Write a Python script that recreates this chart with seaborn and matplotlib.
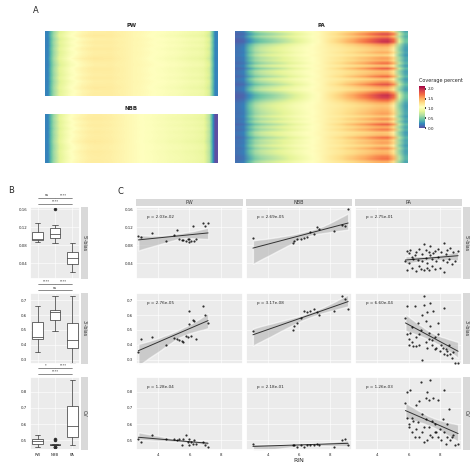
import numpy as np
import pandas as pd
import seaborn as sns
from matplotlib import pyplot as plt

sns.set_theme(style='darkgrid', rc={'axes.facecolor': '#EBEBEB', 'grid.color': 'white'})
plt.rcParams['font.family'] = ['DejaVu Sans']

W, H = 474, 465
GROUPS = ['PW', 'NBB', 'PA']
METRICS = ["5'-bias", "3'-bias", 'CV']

# coverage profiles along gene body (5' -> 3')
prof_pw = [0.2, 0.6, 0.85, 0.95, 1.05, 1.1, 1.15, 1.18, 1.2, 1.2, 1.2, 1.2, 1.18, 1.17, 1.15,
           1.13, 1.12, 1.1, 1.08, 1.06, 1.05, 1.03, 1.02, 1.0, 0.98, 0.96, 0.95, 0.92, 0.8, 0.2]
prof_nbb = [0.2, 0.6, 0.85, 0.97, 1.07, 1.12, 1.16, 1.19, 1.2, 1.2, 1.19, 1.18, 1.16, 1.14, 1.12,
            1.1, 1.08, 1.06, 1.05, 1.03, 1.02, 1.0, 0.99, 0.98, 0.96, 0.95, 0.93, 0.9, 0.7, 0.0]
prof_pa = [0.15, 0.2, 0.45, 0.65, 0.75, 0.8, 0.84, 0.88, 0.92, 0.96, 1.0, 1.03, 1.06, 1.09, 1.12,
           1.15, 1.18, 1.2, 1.22, 1.25, 1.27, 1.3, 1.32, 1.35, 1.38, 1.4, 1.38, 1.2, 0.55, 0.3]
# per-sample 3'-skew of each heatmap row
gain_pw = [0.02, -0.03, 0.05, 0.0, 0.04, -0.02, 0.03, 0.01, -0.04, 0.02, 0.05, -0.01, 0.0, 0.03,
           -0.02, 0.04, 0.01, -0.03, 0.02, 0.0]
gain_nbb = [0.01, -0.02, 0.03, 0.0, 0.04, -0.01, 0.02, 0.0, -0.03, 0.02, 0.03, -0.01, 0.01, 0.02, 0.0]
gain_pa = [0.1, 0.45, 0.25, 0.5, 0.55, 0.2, 0.05, 0.0, 0.1, -0.05, 0.15, 0.1, 0.3, 0.0, 0.35,
           0.05, 0.1, 0.3, 0.0, 0.2, 0.4, 0.15, 0.05, 0.35, 0.55, 0.5, 0.3, 0.1, 0.0, 0.05,
           0.1, 0.15, 0.0, 0.2, 0.05, 0.35, 0.1, 0.25, 0.0, 0.05, 0.3, 0.1, 0.15, 0.0, 0.2,
           0.05, 0.1, 0.25, 0.3, 0.1]

# per-sample QC metrics
pw_rin = [2.7, 2.9, 3.6, 4.5, 5.0, 5.2, 5.3, 5.5, 5.6, 5.8, 5.9, 6.0, 6.0, 6.1, 6.2, 6.3, 6.4, 6.9, 7.0, 7.2]
pw_b5 = [0.100, 0.098, 0.108, 0.090, 0.102, 0.113, 0.093, 0.092, 0.092, 0.090, 0.093, 0.088, 0.095,
         0.090, 0.123, 0.089, 0.093, 0.129, 0.123, 0.130]
pw_b3 = [0.35, 0.44, 0.455, 0.40, 0.445, 0.44, 0.435, 0.425, 0.42, 0.46, 0.455, 0.54, 0.63, 0.46,
         0.57, 0.56, 0.44, 0.66, 0.60, 0.55]
pw_cv = [0.51, 0.49, 0.53, 0.51, 0.51, 0.50, 0.51, 0.47, 0.51, 0.53, 0.49, 0.51, 0.47, 0.49, 0.48,
         0.50, 0.48, 0.49, 0.47, 0.46]

nbb_rin = [3.0, 5.6, 5.7, 5.9, 6.1, 6.3, 6.5, 6.7, 7.0, 7.2, 7.3, 8.3, 8.8, 9.0, 9.2]
nbb_b5 = [0.097, 0.085, 0.090, 0.093, 0.094, 0.097, 0.098, 0.110, 0.105, 0.120, 0.115, 0.112,
          0.125, 0.122, 0.160]
nbb_b3 = [0.49, 0.50, 0.53, 0.55, 0.58, 0.63, 0.62, 0.63, 0.64, 0.62, 0.60, 0.63, 0.73, 0.71, 0.64]
nbb_cv = [0.48, 0.47, 0.47, 0.46, 0.47, 0.46, 0.47, 0.47, 0.47, 0.48, 0.47, 0.46, 0.50, 0.51, 0.47]

pa_rin = [5.8, 5.9, 5.9, 6.0, 6.0, 6.1, 6.2, 6.2, 6.3, 6.4, 6.5, 6.5, 6.6, 6.7, 6.7, 6.8, 6.9, 6.9,
          7.0, 7.0, 7.1, 7.1, 7.2, 7.2, 7.3, 7.3, 7.4, 7.4, 7.5, 7.5, 7.6, 7.7, 7.7, 7.8, 7.9, 7.9,
          8.0, 8.1, 8.2, 8.3, 8.3, 8.4, 8.5, 8.5, 8.6, 8.7, 8.8, 8.9, 9.0, 9.2]
pa_b5 = [0.045, 0.068, 0.025, 0.062, 0.040, 0.070, 0.030, 0.055, 0.050, 0.058, 0.022, 0.065, 0.048,
         0.035, 0.072, 0.028, 0.060, 0.045, 0.082, 0.025, 0.052, 0.070, 0.030, 0.040, 0.065, 0.024,
         0.058, 0.078, 0.035, 0.050, 0.062, 0.028, 0.068, 0.045, 0.055, 0.072, 0.030, 0.065, 0.048,
         0.085, 0.020, 0.060, 0.042, 0.070, 0.050, 0.075, 0.038, 0.066, 0.045, 0.068]
pa_b3 = [0.58, 0.47, 0.66, 0.44, 0.40, 0.48, 0.42, 0.52, 0.39, 0.66, 0.45, 0.39, 0.55, 0.40, 0.47,
         0.50, 0.30, 0.60, 0.67, 0.73, 0.42, 0.56, 0.38, 0.62, 0.44, 0.48, 0.53, 0.68, 0.43, 0.40,
         0.63, 0.37, 0.45, 0.38, 0.47, 0.55, 0.36, 0.40, 0.38, 0.34, 0.65, 0.37, 0.36, 0.33, 0.40,
         0.34, 0.31, 0.35, 0.28, 0.28]
pa_cv = [0.73, 0.64, 0.80, 0.60, 0.58, 0.81, 0.55, 0.64, 0.62, 0.52, 0.72, 0.57, 0.61, 0.74, 0.52,
         0.86, 0.66, 0.55, 0.58, 0.49, 0.76, 0.63, 0.50, 0.80, 0.58, 0.75, 0.53, 0.87, 0.62, 0.52,
         0.76, 0.55, 0.60, 0.55, 0.75, 0.52, 0.57, 0.50, 0.63, 0.55, 0.81, 0.48, 0.60, 0.52, 0.69,
         0.50, 0.52, 0.53, 0.47, 0.48]

pvals = [['p = 2.03e-02', 'p = 2.69e-05', 'p = 2.75e-01'],
         ['p = 2.76e-05', 'p = 3.17e-08', 'p = 6.60e-04'],
         ['p = 1.28e-04', 'p = 2.18e-01', 'p = 1.26e-03']]
sig_labels = [[('ns', 0, 1, 0), ('****', 1, 2, 0), ('****', 0, 2, 1)],
              [('****', 0, 1, 0), ('****', 1, 2, 0), ('ns', 0, 2, 1)],
              [('*', 0, 1, 0), ('****', 1, 2, 0), ('****', 0, 2, 1)]]
y_ticks = [[0.04, 0.08, 0.12, 0.16], [0.3, 0.4, 0.5, 0.6, 0.7], [0.5, 0.6, 0.7, 0.8]]
y_lims = [(0.005, 0.165), (0.27, 0.75), (0.44, 0.89)]

df = pd.DataFrame({
    'group': ['PW'] * len(pw_rin) + ['NBB'] * len(nbb_rin) + ['PA'] * len(pa_rin),
    'RIN': pw_rin + nbb_rin + pa_rin,
    "5'-bias": pw_b5 + nbb_b5 + pa_b5,
    "3'-bias": pw_b3 + nbb_b3 + pa_b3,
    'CV': pw_cv + nbb_cv + pa_cv,
})


def box(x0, y0, x1, y1):
    return [x0 / W, 1 - y1 / H, (x1 - x0) / W, (y1 - y0) / H]


fig = plt.figure(figsize=(W / 100, H / 100), dpi=100)
fs = 3.5

# ---- A: heatmaps (smoothed display)
cmap = 'Spectral_r'
shape = np.linspace(-1, 1, len(prof_pa))
heat = {}
for name, prof, gains in [('PW', prof_pw, gain_pw), ('NBB', prof_nbb, gain_nbb), ('PA', prof_pa, gain_pa)]:
    p = np.array(prof)
    heat[name] = np.array([p * (1 + g * shape) for g in gains])

cax = fig.add_axes(box(419, 86, 425, 128))
for name, rect in [('PW', (45, 31, 218, 96)), ('NBB', (45, 114, 218, 163)), ('PA', (235, 31, 407, 163))]:
    ax = fig.add_axes(box(*rect))
    im = ax.imshow(heat[name], cmap=cmap, vmin=0, vmax=2.15, aspect='auto', interpolation='bilinear')
    ax.set_xticks([])
    ax.set_yticks([])
    ax.grid(False)
    for sp in ax.spines.values():
        sp.set_visible(False)
    ax.set_title(name, fontsize=4, fontweight='bold', pad=3)
    if name == 'PA':
        cb = fig.colorbar(im, cax=cax)
        cb.outline.set_visible(False)
cax.tick_params(labelsize=3, length=1, pad=1)
cax.set_yticks([0, 0.5, 1.0, 1.5, 2.0])
cax.set_title('Coverage percent', fontsize=3.5, loc='left', pad=3)
fig.text(33 / W, 1 - 13 / H, 'A', fontsize=6)
fig.text(8 / W, 1 - 193 / H, 'B', fontsize=6)
fig.text(118 / W, 1 - 194 / H, 'C', fontsize=6)

rows = [(207, 279), (293, 364), (377, 450)]
cols = [(136, 243), (246, 352), (355, 462)]


def strip(rect, text, rot=0):
    s = fig.add_axes(box(*rect))
    s.set_facecolor('#D9D9D9')
    s.set_xticks([])
    s.set_yticks([])
    s.grid(False)
    for sp in s.spines.values():
        sp.set_visible(False)
    s.text(0.5, 0.5, text, rotation=rot, ha='center', va='center', fontsize=fs, color='#333333',
           transform=s.transAxes)


# ---- B: boxplots
for i, (m, (y0, y1)) in enumerate(zip(METRICS, rows)):
    ax = fig.add_axes(box(30, y0, 80, y1))
    sns.boxplot(data=df, x='group', y=m, order=GROUPS, ax=ax, color='white', linecolor='#333333',
                linewidth=0.5, width=0.6, fliersize=1.5, flierprops={'marker': 'o', 'markerfacecolor': 'black'})
    ax.set_ylim(*y_lims[i])
    ax.set_yticks(y_ticks[i])
    ax.tick_params(labelsize=2.8, length=1, pad=1)
    ax.set_xlabel('')
    ax.set_ylabel('')
    ax.grid(linewidth=0.4)
    if i < 2:
        ax.set_xticklabels([])
    strip((80.5, y0, 88, y1), m, rot=-90)
    for lab, a, b, lvl in sig_labels[i]:
        yl = 1.13 - 0.09 * lvl
        ax.plot([a, b], [yl, yl], color='#333333', lw=0.4, clip_on=False, transform=ax.get_xaxis_transform())
        ax.text((a + b) / 2, yl + 0.004, lab, fontsize=2.5, ha='center', va='bottom',
                transform=ax.get_xaxis_transform())

# ---- C: scatter + regression
for i, (m, (y0, y1)) in enumerate(zip(METRICS, rows)):
    for j, (g, (x0, x1)) in enumerate(zip(GROUPS, cols)):
        ax = fig.add_axes(box(x0, y0, x1, y1))
        sub = df[df['group'] == g]
        sns.regplot(data=sub, x='RIN', y=m, ax=ax, color='#333333', truncate=True,
                    scatter_kws={'s': 2.5, 'color': 'black', 'linewidths': 0, 'zorder': 4},
                    line_kws={'linewidth': 0.7, 'zorder': 3})
        band = ax.collections[-1]
        band.set_facecolor('#B5B5B5')
        band.set_alpha(0.6)
        band.set_zorder(2)
        ax.set_xlim(2.55, 9.45)
        ax.set_xticks([4, 6, 8])
        ax.set_ylim(*y_lims[i])
        ax.set_yticks(y_ticks[i])
        ax.tick_params(labelsize=2.8, length=1, pad=1)
        ax.grid(linewidth=0.4)
        ax.set_xlabel('')
        ax.set_ylabel('')
        if j > 0:
            ax.set_yticklabels([])
        if i < 2:
            ax.set_xticklabels([])
        ax.text(0.1, 0.85, pvals[i][j], fontsize=3, transform=ax.transAxes)
        if i == 0:
            strip((x0, 199, x1, 206.5), g)
        if j == 2:
            strip((462.5, y0, 470, y1), m, rot=-90)
fig.text(299 / W, 1 - 463 / H, 'RIN', fontsize=4.5, ha='center', va='bottom')

fig.savefig('out.png', dpi=100)
